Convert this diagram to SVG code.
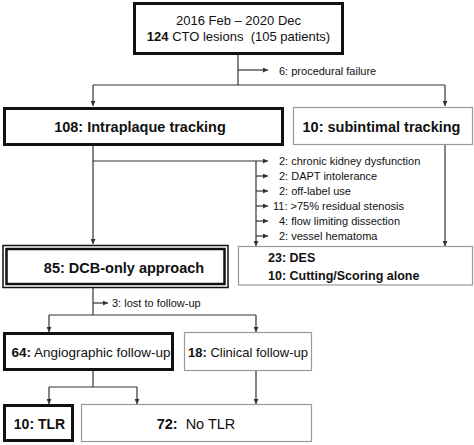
<svg xmlns="http://www.w3.org/2000/svg" width="474" height="445" viewBox="0 0 474 445">
<defs>
<marker id="ah" markerUnits="userSpaceOnUse" markerWidth="5" markerHeight="5" refX="5" refY="2.5" orient="auto">
<path d="M0,0 L5,2.5 L0,5 z" fill="#333"/>
</marker>
<style>
text{font-family:"Liberation Sans",Arial,sans-serif;fill:#111}
.thick{fill:#fff;stroke:#111;stroke-width:3}
.thin{fill:#fff;stroke:#999;stroke-width:1.2}
.b{font-weight:bold}
.s{font-size:11px}
.c{text-anchor:middle}
#connectors path{fill:none;stroke:#333;stroke-width:1.2}
.a{marker-end:url(#ah)}
</style>
</defs>
<rect width="474" height="445" fill="#fff"/>
<g id="connectors">
<path d="M238,54 V85"/>
<path class="a" d="M238,70 H268"/>
<path d="M93,85 H445"/>
<path class="a" d="M93,85 V106"/>
<path class="a" d="M445,85 V106"/>
<path class="a" d="M93,146 V244"/>
<path class="a" d="M93,161 H268"/>
<path class="a" d="M256,161 V246"/>
<path class="a" d="M256,176 H268"/>
<path class="a" d="M256,191 H268"/>
<path class="a" d="M256,206 H268"/>
<path class="a" d="M256,221 H268"/>
<path class="a" d="M256,236 H268"/>
<path class="a" d="M445,145 V246"/>
<path d="M93,288 V315"/>
<path class="a" d="M93,303 H108"/>
<path d="M49,315 H256"/>
<path class="a" d="M49,315 V332"/>
<path class="a" d="M256,315 V332"/>
<path d="M93,371 V387 M49,387 H137"/>
<path class="a" d="M49,387 V404"/>
<path class="a" d="M137,387 V404"/>
<path class="a" d="M256,371 V404"/>
</g>
<g id="labels">
<text class="s" x="279" y="74.5">6: procedural failure</text>
<text class="s" x="279" y="165">2: chronic kidney dysfunction</text>
<text class="s" x="279" y="180">2: DAPT intolerance</text>
<text class="s" x="279" y="195">2: off-label use</text>
<text class="s" x="273" y="210">11: &gt;75% residual stenosis</text>
<text class="s" x="279" y="225">4: flow limiting dissection</text>
<text class="s" x="279" y="240">2: vessel hematoma</text>
<text class="s" x="112" y="307">3: lost to follow-up</text>
</g>
<g id="n-top">
<rect class="thick" x="134.5" y="3.5" width="208" height="50"/>
<text class="c" x="238.5" y="25" font-size="13">2016 Feb – 2020 Dec</text>
<text class="c" x="238.5" y="41" font-size="13" xml:space="preserve"><tspan class="b">124</tspan> CTO lesions  (105 patients)</text>
</g>
<g id="n-intraplaque">
<rect class="thick" x="4.5" y="108.5" width="278" height="36"/>
<text class="c b" x="140" y="132" font-size="14.5">108: Intraplaque tracking</text>
</g>
<g id="n-subintimal">
<rect class="thin" x="293.5" y="107.5" width="179" height="37"/>
<text class="c b" x="381.5" y="132" font-size="14.5">10: subintimal tracking</text>
</g>
<g id="n-dcb">
<rect x="3" y="245.5" width="225" height="42" fill="#fff" stroke="#111" stroke-width="1.5"/>
<rect x="6.5" y="249" width="218" height="35" fill="none" stroke="#111" stroke-width="2.5"/>
<text class="c b" x="124" y="272.5" font-size="14.5">85: DCB-only approach</text>
</g>
<g id="n-des">
<rect class="thin" x="238.5" y="246.5" width="234" height="38.5"/>
<text class="b" x="268" y="261.5" font-size="12.5">23: DES</text>
<text class="b" x="268" y="280" font-size="12.5">10: Cutting/Scoring alone</text>
</g>
<g id="n-angio">
<rect class="thick" x="4.5" y="333.5" width="168" height="36"/>
<text class="c" x="91" y="357" font-size="13.5"><tspan class="b">64:</tspan> Angiographic follow-up</text>
</g>
<g id="n-clinical">
<rect class="thin" x="184.5" y="332.5" width="127" height="38"/>
<text class="c" x="248" y="357" font-size="13"><tspan class="b">18:</tspan> Clinical follow-up</text>
</g>
<g id="n-tlr">
<rect class="thick" x="4.5" y="405.5" width="68" height="35"/>
<text class="c b" x="39.5" y="428.5" font-size="14">10: TLR</text>
</g>
<g id="n-notlr">
<rect class="thin" x="81.5" y="404.5" width="230" height="37"/>
<text class="c" x="196" y="428.5" font-size="14.5" xml:space="preserve"><tspan class="b">72:</tspan>  No TLR</text>
</g>
</svg>
